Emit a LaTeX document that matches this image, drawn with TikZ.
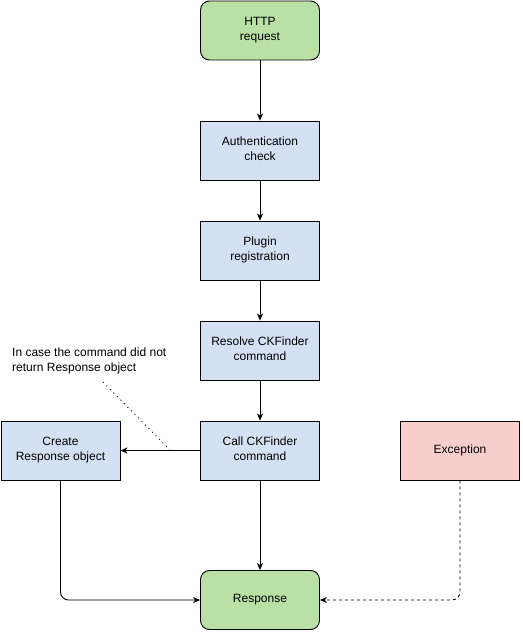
\documentclass[tikz,border=0pt]{standalone}
\usepackage{fontspec}
\setmainfont{Liberation Sans}
\usetikzlibrary{arrows.meta}
\definecolor{gfill}{HTML}{B9E0A5}
\definecolor{bfill}{HTML}{D4E1F5}
\definecolor{rfill}{HTML}{F8CECC}
\begin{document}
\begin{tikzpicture}[x=1pt,y=-1pt,
  box/.style={draw=black,line width=0.9pt,minimum width=119pt,minimum height=59pt,inner sep=0pt,text depth=3pt,align=center,font=\fontsize{12}{15}\selectfont},
  term/.style={box,fill=gfill,rounded corners=9pt},
  proc/.style={box,fill=bfill},
  exc/.style={box,fill=rfill},
  conn/.style={line width=0.9pt,-{Stealth[length=7pt,width=6pt,inset=2pt]}},
  note/.style={align=left,font=\fontsize{12}{15}\selectfont,inner sep=0pt,anchor=north west}]
\useasboundingbox (0,0) rectangle (522,634);
\node[term] (http) at (260,30.5) {HTTP\\request};
\node[proc] (auth) at (260,150.5) {Authentication\\check};
\node[proc] (plug) at (260,250.5) {Plugin\\registration};
\node[proc] (res) at (260,350.5) {Resolve CKFinder\\command};
\node[proc] (call) at (260,450.5) {Call CKFinder\\command};
\node[proc] (create) at (60.5,450.5) {Create\\Response object};
\node[exc] (exc) at (460,450.5) {Exception};
\node[term] (resp) at (260,600) {Response};
\node[note] (nt) at (12,347.5) {In case the command did not\\return Response object};
\coordinate (d1) at (103,382);
\coordinate (d2) at (170,450);
\draw[conn] (http) -- (auth);
\draw[conn] (auth) -- (plug);
\draw[conn] (plug) -- (res);
\draw[conn] (res) -- (call);
\draw[conn] (call) -- (create);
\draw[conn] (call) -- (resp);
\draw[conn,rounded corners=8pt] (create.south) |- (resp.west);
\draw[conn,dash pattern=on 3pt off 3pt,rounded corners=8pt] (exc.south) |- (resp.east);
\draw[line width=0.9pt,dash pattern=on 1pt off 4pt] (d1) -- (d2);
\end{tikzpicture}
\end{document}
